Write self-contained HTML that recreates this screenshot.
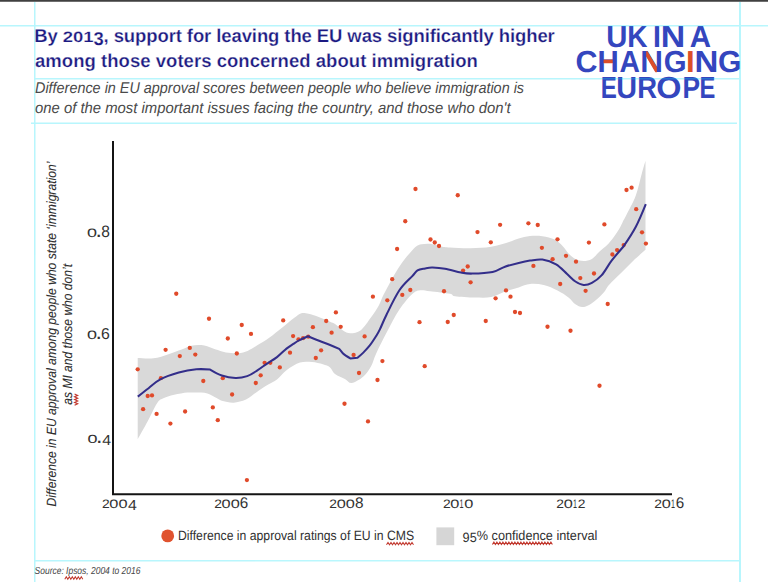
<!DOCTYPE html>
<html><head><meta charset="utf-8">
<style>
*{margin:0;padding:0;box-sizing:border-box}
html,body{width:768px;height:582px;overflow:hidden;background:#fff}
body{position:relative;font-family:"Liberation Sans",Arial,sans-serif;text-rendering:geometricPrecision}
.a{position:absolute;white-space:nowrap}
#topbar{position:absolute;left:0;top:0;width:768px;height:2px;background:linear-gradient(#404040 0,#404040 1px,#6e6e6e 1px,#6e6e6e 2px)}
.t{font-weight:bold;font-size:18.5px;color:#1c1a82;line-height:18.5px;-webkit-text-stroke:0.25px #fff}
.os{display:inline-block;transform:scaleY(0.81);transform-origin:0 15.67px}
.os3{display:inline-block;transform:translateY(2.9px)}
.s{font-style:italic;font-size:15.5px;color:#4a4a4a;line-height:15.5px;transform-origin:0 0}
</style></head><body>
<div id="topbar"></div>

<div id="t1" class="a t" style="left:34.3px;top:26.8px;letter-spacing:-0.1px">By <span class="os">201</span><span class="os3">3</span>, support for leaving the EU was significantly higher</div>
<div id="t2" class="a t" style="left:35px;top:52px;letter-spacing:0.04px">among those voters concerned about immigration</div>
<div id="s1" class="a s" style="left:35px;top:80.6px;transform:scaleX(0.929)">Difference in EU approval scores between people who believe immigration is</div>
<div id="s2" class="a s" style="left:35px;top:101px;transform:scaleX(0.958)">one of the most important issues facing the country, and those who don't</div>

<svg class="a" style="left:0;top:0" width="768" height="582" viewBox="0 0 768 582">
<path d="M137.7,358.0 C140.3,358.1 148.3,358.9 153.4,358.3 C158.5,357.7 163.8,355.7 168.5,354.2 C173.2,352.7 177.9,350.9 181.7,349.5 C185.5,348.1 187.4,346.4 191.2,345.7 C195.0,345.0 200.3,344.9 204.3,345.5 C208.3,346.1 211.5,348.2 215.1,349.3 C218.7,350.4 222.0,351.8 225.9,352.4 C229.8,353.0 234.7,353.4 238.3,353.2 C241.9,352.9 244.5,352.2 247.6,350.9 C250.7,349.6 253.3,347.7 256.9,345.5 C260.5,343.3 265.0,340.7 269.2,337.7 C273.4,334.7 277.9,331.0 282.0,327.7 C286.1,324.4 290.8,320.4 294.0,318.0 C297.2,315.6 298.9,313.9 301.3,313.2 C303.7,312.5 305.7,313.2 308.5,313.8 C311.3,314.4 314.5,315.5 318.1,316.8 C321.7,318.1 327.3,320.5 330.1,321.7 C332.9,322.9 332.9,322.6 335.0,324.0 C337.1,325.4 340.1,328.6 342.7,330.2 C345.3,331.8 347.5,333.3 350.5,333.3 C353.5,333.3 357.4,332.9 360.8,330.2 C364.2,327.5 368.1,321.4 371.1,317.3 C374.1,313.2 376.8,309.2 378.8,305.5 C380.9,301.8 381.4,299.0 383.4,295.0 C385.4,291.0 388.2,285.7 390.6,281.4 C393.0,277.1 395.4,272.8 397.8,269.0 C400.2,265.2 402.8,261.6 405.0,258.7 C407.2,255.8 409.3,253.6 411.2,251.5 C413.1,249.4 414.7,247.5 416.4,246.3 C418.1,245.1 419.2,244.7 421.5,244.3 C423.8,243.9 426.9,243.5 430.0,243.8 C433.1,244.1 436.7,245.6 440.0,246.2 C443.3,246.9 444.9,247.2 450.0,247.5 C455.1,247.8 463.7,248.3 470.6,248.2 C477.5,248.1 484.8,247.8 491.2,246.8 C497.6,245.8 504.5,243.4 509.1,242.0 C513.7,240.6 515.2,239.6 518.7,238.6 C522.2,237.6 526.0,236.4 530.0,236.0 C534.0,235.6 538.3,235.6 542.4,236.2 C546.5,236.8 551.3,237.9 554.7,239.6 C558.1,241.3 560.7,244.2 563.0,246.5 C565.3,248.8 566.4,251.3 568.5,253.4 C570.6,255.5 572.9,257.6 575.4,258.9 C577.9,260.1 580.9,260.9 583.6,260.9 C586.4,260.9 589.1,260.5 591.9,258.9 C594.6,257.2 597.6,253.3 600.1,251.0 C602.6,248.7 604.6,247.6 606.9,245.3 C609.2,243.0 611.7,239.8 613.8,237.0 C615.9,234.2 617.8,231.3 619.3,228.8 C620.8,226.3 621.6,224.1 622.7,221.9 C623.8,219.7 623.9,219.9 626.1,215.5 C628.3,211.1 633.1,202.6 635.7,195.7 C638.3,188.8 640.1,179.8 641.7,174.0 C643.3,168.2 644.9,163.0 645.5,160.8 L645.5,249.8 C643.5,251.6 637.3,256.9 633.3,260.7 C629.3,264.5 625.3,268.7 621.3,272.7 C617.3,276.7 612.1,281.5 609.2,284.7 C606.4,287.9 606.4,289.3 604.2,291.9 C602.0,294.5 598.5,297.9 596.0,300.1 C593.5,302.3 591.4,303.8 589.1,304.9 C586.8,306.0 584.5,307.1 582.2,307.0 C579.9,306.9 577.7,305.8 575.4,304.2 C573.1,302.6 571.5,299.7 568.5,297.4 C565.5,295.1 561.6,292.6 557.5,290.5 C553.4,288.4 548.3,286.1 543.7,285.0 C539.1,283.9 534.2,283.6 530.0,284.0 C525.8,284.4 522.9,286.1 518.7,287.4 C514.5,288.6 509.6,289.9 505.0,291.5 C500.4,293.1 496.2,296.0 491.2,297.0 C486.2,298.0 481.0,297.6 475.0,297.5 C469.0,297.4 459.2,296.9 455.0,296.2 C450.8,295.6 454.2,294.6 450.0,293.8 C445.8,292.9 435.0,291.8 430.0,291.2 C425.0,290.7 422.9,289.8 420.0,290.3 C417.1,290.8 415.7,290.9 412.3,294.1 C408.9,297.3 403.7,303.2 399.4,309.6 C395.1,316.1 390.4,325.5 386.5,332.8 C382.6,340.1 378.8,347.8 376.2,353.4 C373.6,359.0 373.2,362.4 371.1,366.3 C369.0,370.2 366.6,373.8 363.4,376.6 C360.2,379.4 354.8,382.6 351.8,383.0 C348.8,383.4 348.1,380.7 345.3,379.2 C342.5,377.7 337.5,376.0 335.0,374.0 C332.5,372.0 332.1,369.0 330.1,367.4 C328.1,365.8 325.9,365.2 322.9,364.3 C319.9,363.4 315.8,362.3 312.0,362.0 C308.2,361.7 304.2,361.2 300.0,362.5 C295.8,363.8 290.6,367.2 286.8,370.0 C283.0,372.8 280.4,376.9 277.0,379.5 C273.6,382.1 269.5,383.6 266.1,385.7 C262.8,387.8 260.2,389.6 256.9,391.9 C253.5,394.2 249.9,397.8 246.0,399.6 C242.1,401.4 237.6,402.4 233.7,402.7 C229.8,402.9 225.7,401.9 222.8,401.1 C220.0,400.3 219.2,399.3 216.6,398.0 C214.0,396.7 211.0,394.3 207.4,393.4 C203.8,392.5 198.3,392.7 195.0,392.6 C191.7,392.5 190.9,392.2 187.4,392.6 C183.9,393.0 178.2,393.8 174.1,394.8 C170.0,395.8 165.6,397.2 162.8,398.6 C160.0,400.0 159.6,399.5 157.1,403.3 C154.6,407.1 150.9,415.3 147.7,421.3 C144.5,427.3 139.4,436.2 137.7,439.2 Z" fill="#d9d9d9"/>
<g fill="#e04a2a"><circle cx="176.25" cy="293.75" r="2.15"/><circle cx="209" cy="318.75" r="2.15"/><circle cx="241.75" cy="325" r="2.15"/><circle cx="227.8" cy="338.5" r="2.15"/><circle cx="251" cy="333.9" r="2.15"/><circle cx="283.2" cy="320.4" r="2.15"/><circle cx="165.6" cy="349.8" r="2.15"/><circle cx="189.8" cy="347.9" r="2.15"/><circle cx="179.8" cy="356.1" r="2.15"/><circle cx="195.3" cy="354.6" r="2.15"/><circle cx="236.8" cy="353.5" r="2.15"/><circle cx="293.1" cy="336.1" r="2.15"/><circle cx="298.5" cy="339.3" r="2.15"/><circle cx="303.1" cy="338.2" r="2.15"/><circle cx="308.25" cy="336.7" r="2.15"/><circle cx="290" cy="352.7" r="2.15"/><circle cx="137.7" cy="369.3" r="2.15"/><circle cx="160.9" cy="378.2" r="2.15"/><circle cx="203.3" cy="381" r="2.15"/><circle cx="222.8" cy="378.2" r="2.15"/><circle cx="264.6" cy="362.8" r="2.15"/><circle cx="270.3" cy="362.8" r="2.15"/><circle cx="279.8" cy="367.4" r="2.15"/><circle cx="260.7" cy="375.3" r="2.15"/><circle cx="255.8" cy="383" r="2.15"/><circle cx="147.7" cy="396" r="2.15"/><circle cx="152" cy="395.4" r="2.15"/><circle cx="232.1" cy="394.5" r="2.15"/><circle cx="143.1" cy="409.2" r="2.15"/><circle cx="156.6" cy="413.9" r="2.15"/><circle cx="185.1" cy="411.5" r="2.15"/><circle cx="212.8" cy="407.4" r="2.15"/><circle cx="170.4" cy="423.6" r="2.15"/><circle cx="217.8" cy="420.2" r="2.15"/><circle cx="246.9" cy="480.1" r="2.15"/><circle cx="372.9" cy="296.7" r="2.15"/><circle cx="387.3" cy="300.3" r="2.15"/><circle cx="402.3" cy="294.9" r="2.15"/><circle cx="410.3" cy="290" r="2.15"/><circle cx="444" cy="291.25" r="2.15"/><circle cx="335.9" cy="312.4" r="2.15"/><circle cx="326.2" cy="321" r="2.15"/><circle cx="340.7" cy="326.8" r="2.15"/><circle cx="312.9" cy="327.2" r="2.15"/><circle cx="331.6" cy="332.7" r="2.15"/><circle cx="364.6" cy="336.4" r="2.15"/><circle cx="419.5" cy="322.2" r="2.15"/><circle cx="447.75" cy="322" r="2.15"/><circle cx="453.75" cy="315" r="2.15"/><circle cx="485.75" cy="321" r="2.15"/><circle cx="321.1" cy="350.3" r="2.15"/><circle cx="315.8" cy="358" r="2.15"/><circle cx="353.6" cy="355" r="2.15"/><circle cx="382.4" cy="361.1" r="2.15"/><circle cx="424.7" cy="366.2" r="2.15"/><circle cx="359" cy="373" r="2.15"/><circle cx="377.5" cy="380" r="2.15"/><circle cx="344.5" cy="403.75" r="2.15"/><circle cx="368" cy="421.4" r="2.15"/><circle cx="415.5" cy="189" r="2.15"/><circle cx="457.75" cy="195.25" r="2.15"/><circle cx="405.25" cy="221.25" r="2.15"/><circle cx="477.5" cy="232.1" r="2.15"/><circle cx="490.8" cy="242.3" r="2.15"/><circle cx="430.5" cy="239.5" r="2.15"/><circle cx="434.75" cy="242.5" r="2.15"/><circle cx="439" cy="246" r="2.15"/><circle cx="397.1" cy="249" r="2.15"/><circle cx="467.7" cy="266.5" r="2.15"/><circle cx="463.1" cy="270.6" r="2.15"/><circle cx="392.2" cy="279.2" r="2.15"/><circle cx="470.6" cy="282.3" r="2.15"/><circle cx="626.5" cy="190" r="2.15"/><circle cx="631.6" cy="187.7" r="2.15"/><circle cx="636.2" cy="209.2" r="2.15"/><circle cx="500.1" cy="224.8" r="2.15"/><circle cx="528.4" cy="223.3" r="2.15"/><circle cx="537.75" cy="225" r="2.15"/><circle cx="604.4" cy="224.4" r="2.15"/><circle cx="642" cy="232.3" r="2.15"/><circle cx="645.9" cy="243.6" r="2.15"/><circle cx="557.5" cy="239.3" r="2.15"/><circle cx="588.9" cy="242.6" r="2.15"/><circle cx="541.9" cy="247.8" r="2.15"/><circle cx="617.1" cy="250.1" r="2.15"/><circle cx="612.4" cy="254.5" r="2.15"/><circle cx="623.7" cy="245.1" r="2.15"/><circle cx="566" cy="255.8" r="2.15"/><circle cx="552.6" cy="259.2" r="2.15"/><circle cx="576" cy="261.7" r="2.15"/><circle cx="533.4" cy="265.9" r="2.15"/><circle cx="594" cy="273.5" r="2.15"/><circle cx="580.3" cy="278.1" r="2.15"/><circle cx="560.2" cy="284" r="2.15"/><circle cx="585.6" cy="290.8" r="2.15"/><circle cx="506" cy="290.4" r="2.15"/><circle cx="495.6" cy="298.3" r="2.15"/><circle cx="510.5" cy="296.7" r="2.15"/><circle cx="607.7" cy="304" r="2.15"/><circle cx="515" cy="312" r="2.15"/><circle cx="520" cy="313" r="2.15"/><circle cx="547.5" cy="326.75" r="2.15"/><circle cx="570.5" cy="330.75" r="2.15"/><circle cx="599.5" cy="385.75" r="2.15"/></g>
<path d="M137.8,396.6 C137.8,396.6 144.8,391.1 148.6,388.2 C152.3,385.3 155.3,382.0 160.3,379.4 C165.3,376.8 172.8,374.3 178.8,372.6 C184.8,370.9 191.2,369.8 196.4,369.3 C201.6,368.8 210.1,369.6 210.1,369.6 C210.1,369.6 217.6,374.1 221.8,375.5 C226.0,376.9 231.3,377.8 235.5,377.9 C239.7,378.0 243.6,377.3 247.2,376.1 C250.8,374.9 253.8,372.7 257.0,370.6 C260.2,368.6 263.4,366.1 266.7,363.8 C270.0,361.6 273.7,359.6 277.0,357.1 C280.3,354.6 283.8,350.8 286.5,348.6 C289.2,346.4 290.8,345.5 293.0,344.1 C295.2,342.7 297.0,341.5 299.5,340.2 C302.0,338.9 308.0,336.3 308.0,336.3 C308.0,336.3 315.5,339.4 319.1,340.8 C322.7,342.2 326.1,343.4 329.5,344.7 C332.9,346.0 339.2,348.9 339.2,348.9 C339.2,348.9 340.4,350.4 341.2,351.2 C342.0,352.1 342.3,352.9 343.8,354.1 C345.3,355.3 350.3,358.4 350.3,358.4 C350.3,358.4 357.5,357.8 357.5,357.8 C357.5,357.8 361.2,354.7 363.3,352.6 C365.4,350.5 367.6,348.2 369.8,345.4 C372.0,342.6 374.7,338.3 376.4,335.6 C378.1,332.9 378.3,332.6 380.0,329.1 C381.7,325.6 383.3,321.2 386.5,314.7 C389.7,308.2 395.1,296.7 399.4,290.3 C403.7,283.9 409.3,279.4 412.3,276.1 C415.3,272.8 415.4,271.7 417.5,270.4 C419.6,269.1 422.5,268.9 425.0,268.4 C427.5,267.9 429.2,267.4 432.5,267.5 C435.8,267.6 440.2,267.9 445.0,268.8 C449.8,269.6 456.5,271.8 461.0,272.6 C465.5,273.4 466.7,273.7 472.0,273.6 C477.3,273.5 487.1,273.1 492.6,272.0 C498.1,270.9 500.6,268.2 505.0,266.7 C509.4,265.2 514.5,263.9 518.7,262.9 C522.9,261.9 526.0,261.2 530.0,260.6 C534.0,260.1 538.0,259.0 542.4,259.6 C546.8,260.2 552.0,262.0 556.1,264.4 C560.2,266.8 563.9,271.1 567.1,274.0 C570.3,276.9 572.6,279.7 575.4,281.5 C578.1,283.3 580.9,284.8 583.6,285.0 C586.4,285.2 588.9,284.5 591.9,282.9 C594.9,281.3 598.2,279.1 601.5,275.4 C604.8,271.7 607.9,265.6 611.6,260.7 C615.3,255.8 623.7,246.2 623.7,246.2 C623.7,246.2 632.0,234.0 635.7,227.0 C639.4,220.0 645.8,204.1 645.8,204.1" fill="none" stroke="#332e8a" stroke-width="2.05" stroke-linejoin="round"/>
<g font-family="Liberation Sans, Arial, sans-serif" font-weight="bold" font-size="30.4" text-rendering="geometricPrecision"><text transform="translate(606.14,46.8) scale(0.963,1)" fill="#3446be">U</text><text transform="translate(627.13,46.8) scale(0.922,1)" fill="#3446be">K</text><text transform="translate(653.10,46.8) scale(0.936,1)" fill="#3446be">I</text><text transform="translate(660.84,46.8) scale(1.113,1)" fill="#3446be">N</text><text transform="translate(689.77,46.8) scale(0.971,1)" fill="#3446be">A</text><text transform="translate(575.55,72.2) scale(1.001,1)" fill="#3446be">C</text><text transform="translate(597.53,72.2) scale(0.968,1)" fill="#3446be">H</text><path transform="translate(597.53,72.2) scale(0.01437,-0.01484)" d="M420,604 H1058 V848 H420 Z" fill="#dc4f28"/><text transform="translate(619.49,72.2) scale(0.932,1)" fill="#3446be">A</text><text transform="translate(640.19,72.2) scale(1.035,1)" fill="#3446be">N</text><path transform="translate(640.19,72.2) scale(0.01537,-0.01484)" d="M392,1418 L478,1418 L1084,349 L1084,-6 L992,-6 L392,1050 Z" fill="#dc4f28"/><text transform="translate(663.80,72.2) scale(0.965,1)" fill="#3446be">G</text><text transform="translate(686.11,72.2) scale(1.028,1)" fill="#dc4f28">I</text><text transform="translate(694.39,72.2) scale(1.086,1)" fill="#3446be">N</text><text transform="translate(717.96,72.2) scale(0.994,1)" fill="#3446be">G</text><text transform="translate(600.79,97.8) scale(0.792,1)" fill="#3446be">E</text><text transform="translate(616.37,97.8) scale(0.947,1)" fill="#3446be">U</text><text transform="translate(637.37,97.8) scale(0.902,1)" fill="#3446be">R</text><text transform="translate(656.37,97.8) scale(1.065,1)" fill="#3446be">O</text><text transform="translate(682.54,97.8) scale(0.866,1)" fill="#3446be">P</text><text transform="translate(699.61,97.8) scale(0.780,1)" fill="#3446be">E</text></g>
<path d="M113,141 V495.3 M112,494.3 H672" fill="none" stroke="#141414" stroke-width="2"/>
<g font-family="Liberation Sans, Arial, sans-serif" font-size="16" fill="#333"><text transform="translate(101.90,507.80) scale(0.864,0.770)">2</text><text transform="translate(109.26,507.68) scale(1.020,0.759)">0</text><text transform="translate(118.46,507.68) scale(1.020,0.759)">0</text><text transform="translate(127.94,509.60) scale(0.992,0.918)">4</text><text transform="translate(214.20,507.80) scale(0.864,0.770)">2</text><text transform="translate(221.56,507.68) scale(1.020,0.759)">0</text><text transform="translate(230.76,507.68) scale(1.020,0.759)">0</text><text transform="translate(239.83,507.65) scale(0.948,0.962)">6</text><text transform="translate(329.30,507.80) scale(0.864,0.770)">2</text><text transform="translate(336.66,507.68) scale(1.020,0.759)">0</text><text transform="translate(345.86,507.68) scale(1.020,0.759)">0</text><text transform="translate(355.03,507.65) scale(0.959,0.962)">8</text><text transform="translate(442.90,507.80) scale(0.864,0.770)">2</text><text transform="translate(450.26,507.68) scale(1.020,0.759)">0</text><text transform="translate(459.55,507.80) scale(0.449,0.781)">1</text><text transform="translate(464.36,507.68) scale(1.020,0.759)">0</text><text transform="translate(556.30,507.80) scale(0.864,0.770)">2</text><text transform="translate(563.66,507.68) scale(1.020,0.759)">0</text><text transform="translate(572.95,507.80) scale(0.449,0.781)">1</text><text transform="translate(577.70,507.80) scale(0.864,0.770)">2</text><text transform="translate(654.30,507.80) scale(0.864,0.770)">2</text><text transform="translate(661.66,507.68) scale(1.020,0.759)">0</text><text transform="translate(670.95,507.80) scale(0.449,0.781)">1</text><text transform="translate(675.63,507.65) scale(0.948,0.962)">6</text><text transform="translate(87.10,236.98) scale(1.124,0.759)">0</text><text transform="translate(95.59,237.10) scale(1.444,1.345)">.</text><text transform="translate(101.22,236.94) scale(0.972,1.033)">8</text><text transform="translate(87.10,339.08) scale(1.124,0.759)">0</text><text transform="translate(95.59,339.20) scale(1.444,1.345)">.</text><text transform="translate(101.10,339.05) scale(0.989,0.980)">6</text><text transform="translate(87.60,442.99) scale(1.124,0.733)">0</text><text transform="translate(96.09,443.10) scale(1.444,1.345)">.</text><text transform="translate(102.14,445.10) scale(0.992,0.908)">4</text></g>
<g font-family="Liberation Sans, Arial, sans-serif" font-size="13.4" font-style="italic" fill="#2e2e2e" stroke="#2e2e2e" stroke-width="0.08">
<text id="yl1" transform="translate(55.9,506.5) rotate(-90) scale(0.905,1)">Difference in EU approval among people who state ‘immigration’</text>
<text id="yl2" transform="translate(72.1,404.7) rotate(-90) scale(0.90,1)">as MI and those who don’t</text>
</g>
<circle cx="167.7" cy="535.9" r="6.4" fill="#e0532f"/>
<rect x="436.4" y="527.4" width="17.8" height="17.8" fill="#d6d6d6"/>
<g font-family="Liberation Sans, Arial, sans-serif" font-size="13.5" fill="#303030">
<text id="lg1" transform="translate(178,539.9) scale(0.905,1)">Difference in approval ratings of EU in CMS</text>
<text id="lg2" transform="translate(462.6,539.9) scale(0.94,1)"><tspan dy="1.8">95</tspan><tspan dy="-1.8">% confidence interval</tspan></text>
</g>
<text id="src" transform="translate(34.6,574.4) scale(0.83,1)" font-family="Liberation Sans, Arial, sans-serif" font-size="10.2" font-style="italic" fill="#444">Source: Ipsos, 2004 to 2016</text>
<g fill="none" stroke="#c23a30" stroke-width="1.05">
<path d="M386.5,544.8 L388.0,542.4 L389.5,544.8 L391.0,542.4 L392.5,544.8 L394.0,542.4 L395.5,544.8 L397.0,542.4 L398.5,544.8 L400.0,542.4 L401.5,544.8 L403.0,542.4 L404.5,544.8 L406.0,542.4 L407.5,544.8 L409.0,542.4 L410.5,544.8 L412.0,542.4 L413.5,544.8"/>
<path d="M492.4,544.5 L493.9,542.1 L495.4,544.5 L496.9,542.1 L498.4,544.5 L499.9,542.1 L501.4,544.5 L502.9,542.1 L504.4,544.5 L505.9,542.1 L507.4,544.5 L508.9,542.1 L510.4,544.5 L511.9,542.1 L513.4,544.5 L514.9,542.1 L516.4,544.5 L517.9,542.1 L519.4,544.5 L520.9,542.1 L522.4,544.5 L523.9,542.1 L525.4,544.5 L526.9,542.1 L528.4,544.5 L529.9,542.1 L531.4,544.5 L532.9,542.1 L534.4,544.5 L535.9,542.1 L537.4,544.5 L538.9,542.1 L540.4,544.5 L541.9,542.1 L543.4,544.5 L544.9,542.1 L546.4,544.5 L547.9,542.1 L549.4,544.5 L550.9,542.1 L552.4,544.5"/>
<path d="M64.8,579.2 L66.3,576.8 L67.8,579.2 L69.3,576.8 L70.8,579.2 L72.3,576.8 L73.8,579.2 L75.3,576.8 L76.8,579.2 L78.3,576.8 L79.8,579.2 L81.3,576.8 L82.8,579.2"/>
<path d="M74.6,394 L77.6,395.4 L74.6,396.8 L77.6,398.2 L74.6,399.6 L77.6,401 L74.6,402.4 L77.6,403.8 L74.6,405.2" stroke-width="1.2"/>
</g>
</svg>
<svg class="a" style="left:0;top:0" width="768" height="582" viewBox="0 0 768 582">
<g opacity="0.28" fill="#05e2f8">
<rect x="34" y="2" width="1.5" height="580"/>
<rect x="739" y="2" width="2" height="580"/>
<rect x="0" y="25" width="768" height="1.5"/>
<rect x="34" y="78" width="706" height="1.5"/>
<rect x="31" y="122.5" width="706" height="1.5"/>
<rect x="34" y="560" width="706" height="1.5"/>
</g></svg>

</body></html>
